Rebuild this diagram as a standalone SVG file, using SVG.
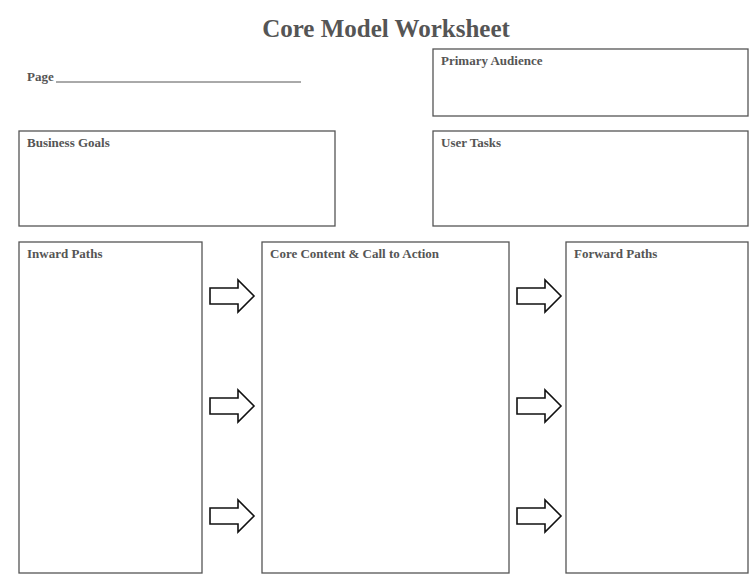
<svg xmlns="http://www.w3.org/2000/svg" width="750" height="577" viewBox="0 0 750 577">
<defs>
<style>
.box{fill:#fff;stroke:#555;stroke-width:1.3}
.lbl{font-family:"Liberation Serif",serif;font-weight:bold;font-size:13px;fill:#555}
.arr{fill:#fff;stroke:#111;stroke-width:1.6;stroke-linejoin:miter}
</style>
<path id="a" d="M0,-8 H28 V-16 L44,0 L28,16 V8 H0 Z"/>
</defs>
<rect width="750" height="577" fill="#fff"/>
<text x="386" y="37" text-anchor="middle" font-family="Liberation Serif,serif" font-weight="bold" font-size="25" fill="#555">Core Model Worksheet</text>
<g id="page"><text class="lbl" x="27" y="81">Page</text><line x1="56" y1="82" x2="301" y2="82" stroke="#555" stroke-width="1"/></g>
<g id="primary-audience"><rect class="box" x="433" y="49" width="315" height="67"/><text class="lbl" x="441" y="65">Primary Audience</text></g>
<g id="business-goals"><rect class="box" x="19" y="131" width="316" height="95"/><text class="lbl" x="27" y="147">Business Goals</text></g>
<g id="user-tasks"><rect class="box" x="433" y="131" width="315" height="95"/><text class="lbl" x="441" y="147">User Tasks</text></g>
<g id="inward-paths"><rect class="box" x="19" y="242" width="183" height="331"/><text class="lbl" x="27" y="258">Inward Paths</text></g>
<g id="core-content"><rect class="box" x="262" y="242" width="247" height="331"/><text class="lbl" x="270" y="258">Core Content &amp; Call to Action</text></g>
<g id="forward-paths"><rect class="box" x="566" y="242" width="182" height="331"/><text class="lbl" x="574" y="258">Forward Paths</text></g>
<g id="connectors">
<use href="#a" class="arr" x="210" y="296"/>
<use href="#a" class="arr" x="210" y="406"/>
<use href="#a" class="arr" x="210" y="516"/>
<use href="#a" class="arr" x="517" y="296"/>
<use href="#a" class="arr" x="517" y="406"/>
<use href="#a" class="arr" x="517" y="516"/>
</g>
</svg>
